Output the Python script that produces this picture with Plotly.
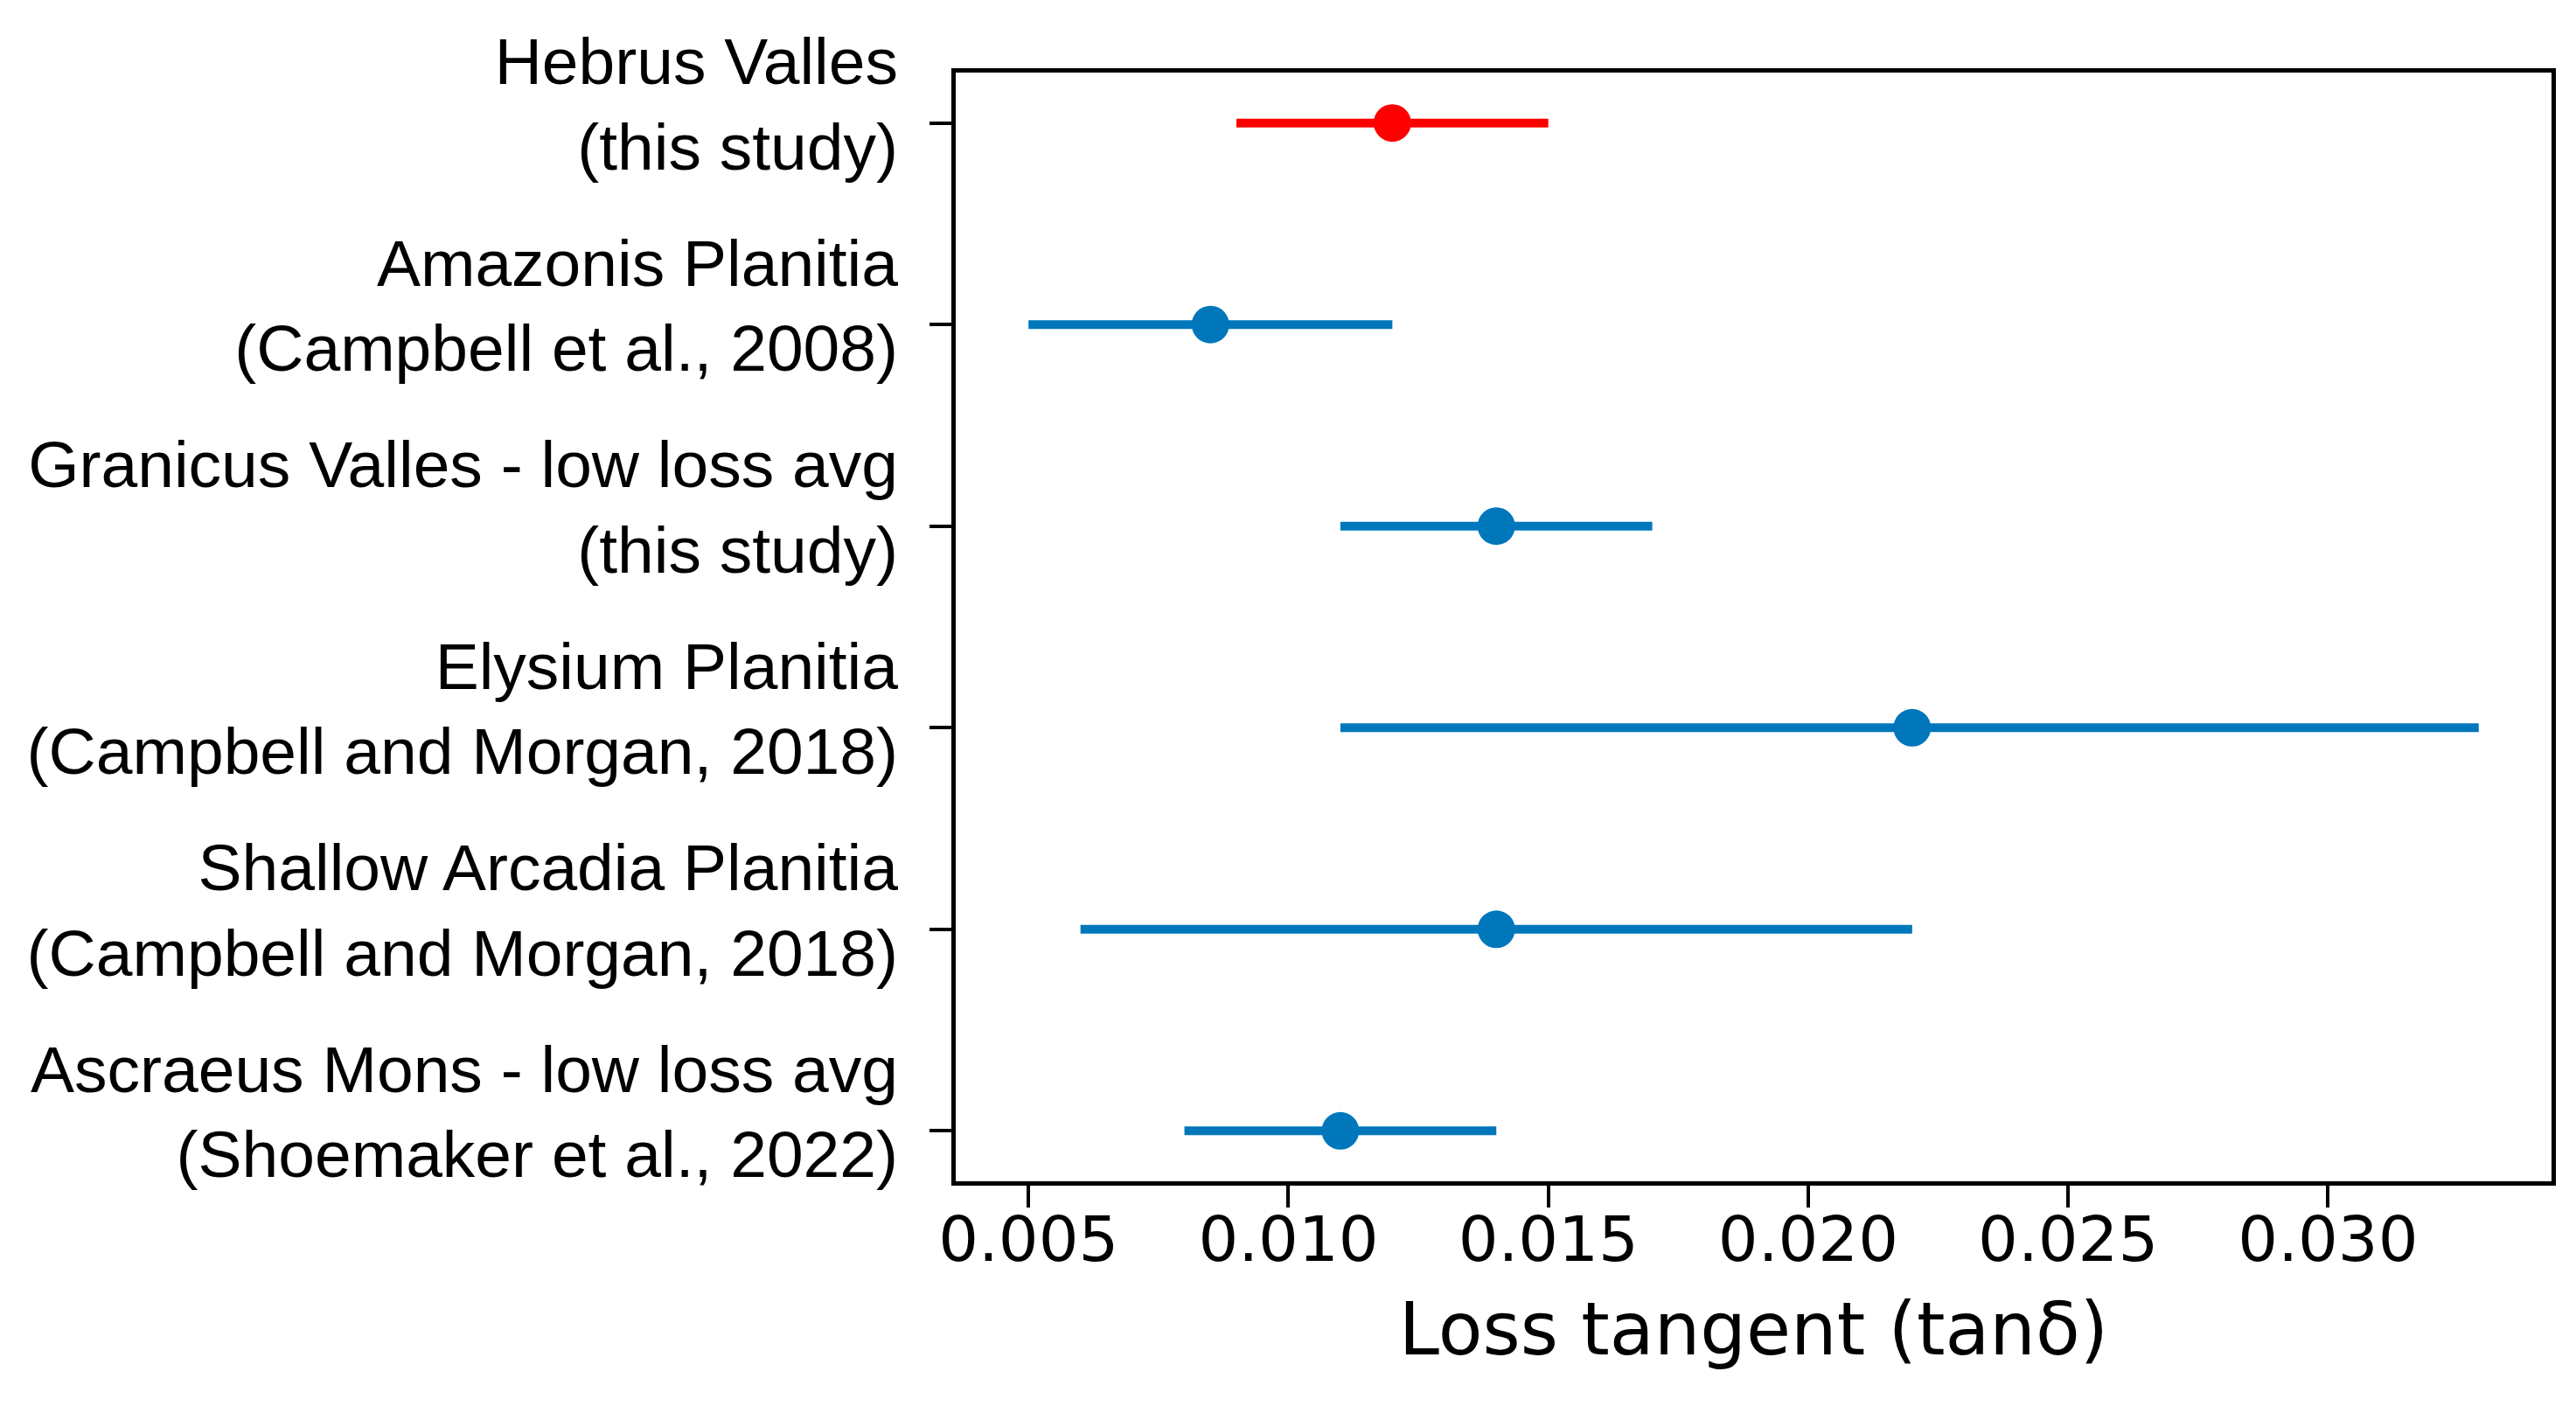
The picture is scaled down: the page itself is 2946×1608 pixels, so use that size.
import plotly.graph_objects as go

labels = [
    "Hebrus Valles<br>(this study)",
    "Amazonis Planitia<br>(Campbell et al., 2008)",
    "Granicus Valles - low loss avg<br>(this study)",
    "Elysium Planitia<br>(Campbell and Morgan, 2018)",
    "Shallow Arcadia Planitia<br>(Campbell and Morgan, 2018)",
    "Ascraeus Mons - low loss avg<br>(Shoemaker et al., 2022)",
]
centers = [0.012, 0.0085, 0.014, 0.022, 0.014, 0.011]
err_minus = [0.003, 0.0035, 0.003, 0.011, 0.008, 0.003]
err_plus = [0.003, 0.0035, 0.003, 0.0109, 0.008, 0.003]
highlight = [True, False, False, False, False, False]

x_ticks = [0.005, 0.010, 0.015, 0.020, 0.025, 0.030]
x_ticktext = ["0.005", "0.010", "0.015", "0.020", "0.025", "0.030"]

RED = "#ff0000"
BLUE = "#0077bb"

fig = go.Figure()
for flag, color in [(True, RED), (False, BLUE)]:
    idx = [i for i, h in enumerate(highlight) if h == flag]
    fig.add_trace(go.Scatter(
        x=[centers[i] for i in idx],
        y=[labels[i] for i in idx],
        mode="markers",
        marker=dict(color=color, size=43, line=dict(width=0)),
        error_x=dict(type="data", symmetric=False,
                     array=[err_plus[i] for i in idx],
                     arrayminus=[err_minus[i] for i in idx],
                     color=color, thickness=10, width=0),
        showlegend=False,
    ))

fig.update_layout(
    width=2946, height=1608,
    margin=dict(l=1085, r=36, t=75, b=265),
    plot_bgcolor="white", paper_bgcolor="white",
)
fig.update_xaxes(
    range=[0.0036, 0.0343],
    tickvals=x_ticks, ticktext=x_ticktext,
    tickfont=dict(family="DejaVu Sans", size=72, color="black"),
    ticks="outside", ticklen=25, tickwidth=3.5, tickcolor="black",
    ticklabelstandoff=-25,
    showline=True, linecolor="black", linewidth=5, mirror=True,
    showgrid=False, zeroline=False,
    title=dict(text="Loss tangent (tanδ)", standoff=34,
               font=dict(family="DejaVu Sans", size=83, color="black")),
)
fig.update_yaxes(
    type="category", categoryorder="array", categoryarray=labels[::-1],
    range=[-0.25, 5.25],
    tickfont=dict(family="Liberation Sans", size=75, color="black"),
    ticks="outside", ticklen=25, tickwidth=4, tickcolor="black",
    ticklabelstandoff=21, ticklabelshift=-22,
    showline=True, linecolor="black", linewidth=5, mirror=True,
    showgrid=False, zeroline=False,
)
fig.write_html("out.html")
